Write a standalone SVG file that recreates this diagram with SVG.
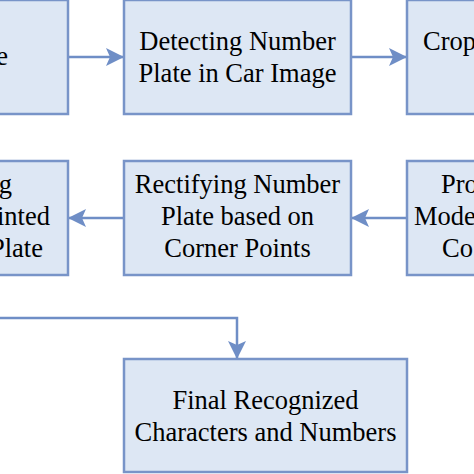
<svg xmlns="http://www.w3.org/2000/svg" width="474" height="474" viewBox="0 0 474 474">
<defs>
<style>
.box{fill:#dde7f4;stroke:#7894c8;stroke-width:2.5}
.lbl{font-family:"Liberation Serif","Times New Roman",serif;font-size:26.5px;fill:#000;text-anchor:middle}
.end{text-anchor:end}
.start{text-anchor:start}
.con{fill:none;stroke:#6f8ec6;stroke-width:2.5}
</style>
<marker id="ah" viewBox="0 0 18 18" refX="17" refY="9" markerWidth="18" markerHeight="18" markerUnits="userSpaceOnUse" orient="auto">
<path d="M0,0 L18,9 L0,18 L4,9 Z" fill="#6f8ec6"/>
</marker>
</defs>
<rect width="474" height="474" fill="#ffffff"/>
<g id="connectors">
<line class="con" x1="68" y1="57" x2="123" y2="57" marker-end="url(#ah)"/>
<line class="con" x1="351" y1="57" x2="406" y2="57" marker-end="url(#ah)"/>
<line class="con" x1="124" y1="218" x2="69" y2="218" marker-end="url(#ah)"/>
<line class="con" x1="407" y1="218" x2="352" y2="218" marker-end="url(#ah)"/>
<polyline class="con" points="0,318 237,318 237,358" marker-end="url(#ah)"/>
</g>
<g id="node-input">
<rect class="box" x="-160" y="0" width="228" height="114"/>
<text class="lbl end" x="8" y="65">e</text>
</g>
<g id="node-detect">
<rect class="box" x="124" y="0" width="227" height="114"/>
<text class="lbl" x="237.5" y="50">Detecting Number</text>
<text class="lbl" x="237.5" y="82">Plate in Car Image</text>
</g>
<g id="node-crop">
<rect class="box" x="407" y="0" width="227" height="114"/>
<text class="lbl start" x="423" y="50">Crop</text>
</g>
<g id="node-left-mid">
<rect class="box" x="-160" y="161" width="228" height="114"/>
<text class="lbl end" x="12" y="193">g</text>
<text class="lbl end" x="50" y="225">inted</text>
<text class="lbl end" x="43" y="257">Plate</text>
</g>
<g id="node-rectify">
<rect class="box" x="124" y="161" width="227" height="114"/>
<text class="lbl" x="237.5" y="193">Rectifying Number</text>
<text class="lbl" x="237.5" y="225">Plate based on</text>
<text class="lbl" x="237.5" y="257">Corner Points</text>
</g>
<g id="node-model">
<rect class="box" x="407" y="161" width="227" height="114"/>
<text class="lbl start" x="441" y="193">Pro</text>
<text class="lbl start" x="414" y="225">Mode</text>
<text class="lbl start" x="442" y="257">Co</text>
</g>
<g id="node-final">
<rect class="box" x="124" y="359" width="283" height="113"/>
<text class="lbl" x="265.5" y="409">Final Recognized</text>
<text class="lbl" x="265.5" y="441">Characters and Numbers</text>
</g>
</svg>
